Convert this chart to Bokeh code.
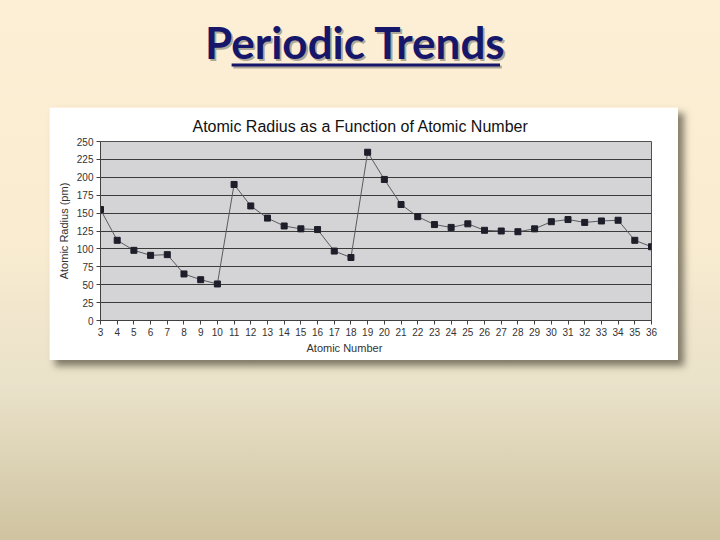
from bokeh.plotting import figure
from bokeh.layouts import column
from bokeh.models import Label, BoxAnnotation, FixedTicker, GlobalInlineStyleSheet, Title
from bokeh.embed import file_html
from bokeh.resources import INLINE

atomic_number = list(range(3, 37))
radius_pm = [155, 112, 98, 91, 92, 65, 57, 51, 190, 160, 143, 132, 128, 127, 97, 88,
             235, 197, 162, 145, 134, 130, 135, 126, 125, 124, 128, 138, 141, 137, 139, 140, 112, 103]
y_ticks = list(range(0, 251, 25))

slide_title = "Periodic Trends"
chart_title = "Atomic Radius as a Function of Atomic Number"
x_label = "Atomic Number"
y_label = "Atomic Radius (pm)"

NAVY = "#16166a"

# ---------- slide heading ----------
head = figure(width=720, height=107, output_backend="svg", toolbar_location=None,
              x_range=(0, 720), y_range=(107, 0), min_border=0)
head.axis.visible = False
head.grid.visible = False
head.outline_line_color = None
head.border_fill_color = None
head.background_fill_color = None
head.stylesheets = [GlobalInlineStyleSheet(css=(
    "html{background: linear-gradient(to bottom, #fcefd5 0%, #f9ecd1 45%, #e9e1c9 72%, #cfc3a0 100%) fixed;"
    " min-height:100%;} body{background: transparent;}"))]

# shadow + underline
head.add_layout(BoxAnnotation(left=204, right=505, top=65, bottom=68, fill_color="#9a9488",
                              fill_alpha=0.8, line_color=None, level="underlay"))
head.add_layout(BoxAnnotation(left=202, right=503, top=63, bottom=66, fill_color=NAVY,
                              fill_alpha=1, line_color=None, level="underlay"))
head.add_layout(Label(x=343, y=43, text=slide_title, text_align="center", text_baseline="alphabetic",
                      text_font="Lato", text_font_style="bold", text_font_size="44px",
                      text_color="#9a9488", text_alpha=0.8))
head.add_layout(Label(x=341, y=41, text=slide_title, text_align="center", text_baseline="alphabetic",
                      text_font="Lato", text_font_style="bold", text_font_size="44px",
                      text_color=NAVY))

# ---------- chart ----------
PW, PH = 629, 253
p = figure(width=PW, height=PH, output_backend="svg", toolbar_location=None,
           x_range=(3, 36), y_range=(0, 250),
           min_border_left=51, min_border_right=27, min_border_top=34, min_border_bottom=40)
p.margin = (0, 0, 0, 49)
p.styles = {"box-shadow": "6px 6px 7px rgba(70, 66, 50, 0.65)"}
p.border_fill_color = "white"
p.background_fill_color = "#d4d4d6"
p.outline_line_color = "#505050"

p.title = Title(text=chart_title, align="left", offset=92, standoff=14,
                text_font="Liberation Sans", text_font_size="16px", text_font_style="normal",
                text_color="#111111")

p.line(atomic_number, radius_pm, line_color="#5a5a60", line_width=1)
p.scatter(atomic_number, radius_pm, marker="square", size=6, fill_color="#1e1e2a", line_color="#1e1e2a")

for ax in (p.xaxis[0], p.yaxis[0]):
    ax.major_label_text_font = "Liberation Sans"
    ax.major_label_text_font_size = "10px"
    ax.major_label_text_color = "#333333"
    ax.axis_label_text_font = "Liberation Sans"
    ax.axis_label_text_font_size = "11px"
    ax.axis_label_text_font_style = "normal"
    ax.axis_label_text_color = "#333333"
    ax.axis_line_color = "#404040"
    ax.major_tick_line_color = "#404040"
    ax.major_tick_in = 0
    ax.major_tick_out = 4
    ax.minor_tick_line_color = None
    ax.major_label_standoff = 3

p.xaxis.ticker = FixedTicker(ticks=atomic_number)
p.yaxis.ticker = FixedTicker(ticks=y_ticks)
p.yaxis.axis_label = y_label
p.yaxis.axis_label_standoff = 4
p.add_layout(Title(text=x_label, align="left", offset=206, standoff=2,
                   text_font="Liberation Sans", text_font_size="11px", text_font_style="normal",
                   text_color="#333333"), "below")
p.xgrid.visible = False
p.ygrid.grid_line_color = "#3a3a3a"
p.ygrid.grid_line_alpha = 1

layout = column(head, p, spacing=0)
out = file_html(layout, INLINE)
open("out.html", "w").write(out)
